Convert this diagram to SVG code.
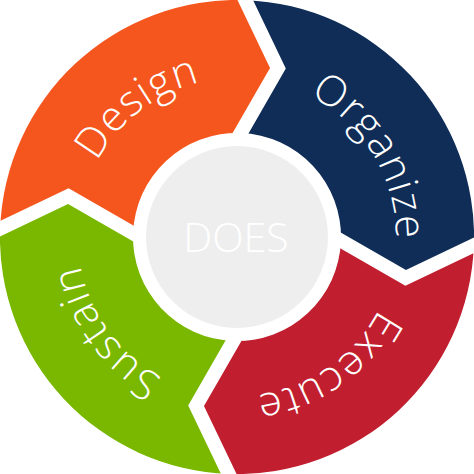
<svg xmlns="http://www.w3.org/2000/svg" xmlns:xlink="http://www.w3.org/1999/xlink" width="474" height="474" viewBox="0 0 474 474">
  <style>
    .lbl { font-family: "Open Sans", "Liberation Sans", sans-serif; font-weight: 300; font-size: 42px; fill: #ffffff; letter-spacing: 1px; }
    .hub { font-family: "Open Sans", "Liberation Sans", sans-serif; font-weight: 300; font-size: 41px; fill: #ffffff; }
  </style>
  <defs>
    <clipPath id="annulus" clipPathUnits="userSpaceOnUse">
      <path clip-rule="evenodd" d="M0,-237 A237,237 0 1,1 0,237 A237,237 0 1,1 0,-237 Z M0,-104 A104,104 0 1,0 0,104 A104,104 0 1,0 0,-104 Z"/>
    </clipPath>
    <path id="seg" d="M-4.1,-260 L42.9,-170 L-4.8,-80 L80,-20.6 L170,27.1 L260,-19.9 L260,-260 Z"/>
    <path id="ring" d="M237,78 A159,159 0 1,1 237,396 A159,159 0 1,1 237,78"/>
  </defs>
  <rect width="474" height="474" fill="#ffffff"/>
  <g id="design">
    <g transform="translate(237,237) rotate(272)"><use xlink:href="#seg" href="#seg" fill="#F5561E" clip-path="url(#annulus)"/></g>
    <text class="lbl"><textPath xlink:href="#ring" href="#ring" startOffset="89.6%" text-anchor="middle">Design</textPath></text>
  </g>
  <g id="organize">
    <g transform="translate(237,237) rotate(2)"><use xlink:href="#seg" href="#seg" fill="#0F2D57" clip-path="url(#annulus)"/></g>
    <text class="lbl"><textPath xlink:href="#ring" href="#ring" startOffset="16.4%" text-anchor="middle">Organize</textPath></text>
  </g>
  <g id="execute">
    <g transform="translate(237,237) rotate(92)"><use xlink:href="#seg" href="#seg" fill="#C11F30" clip-path="url(#annulus)"/></g>
    <text class="lbl"><textPath xlink:href="#ring" href="#ring" startOffset="40.3%" text-anchor="middle">Execute</textPath></text>
  </g>
  <g id="sustain">
    <g transform="translate(237,237) rotate(182)"><use xlink:href="#seg" href="#seg" fill="#7AB800" clip-path="url(#annulus)"/></g>
    <text class="lbl"><textPath xlink:href="#ring" href="#ring" startOffset="65%" text-anchor="middle">Sustain</textPath></text>
  </g>
  <g id="does">
    <circle cx="237" cy="237" r="91" fill="#EEEEEE"/>
    <text class="hub" x="236" y="252" text-anchor="middle">DOES</text>
  </g>
  <g id="connectors"/>
</svg>
